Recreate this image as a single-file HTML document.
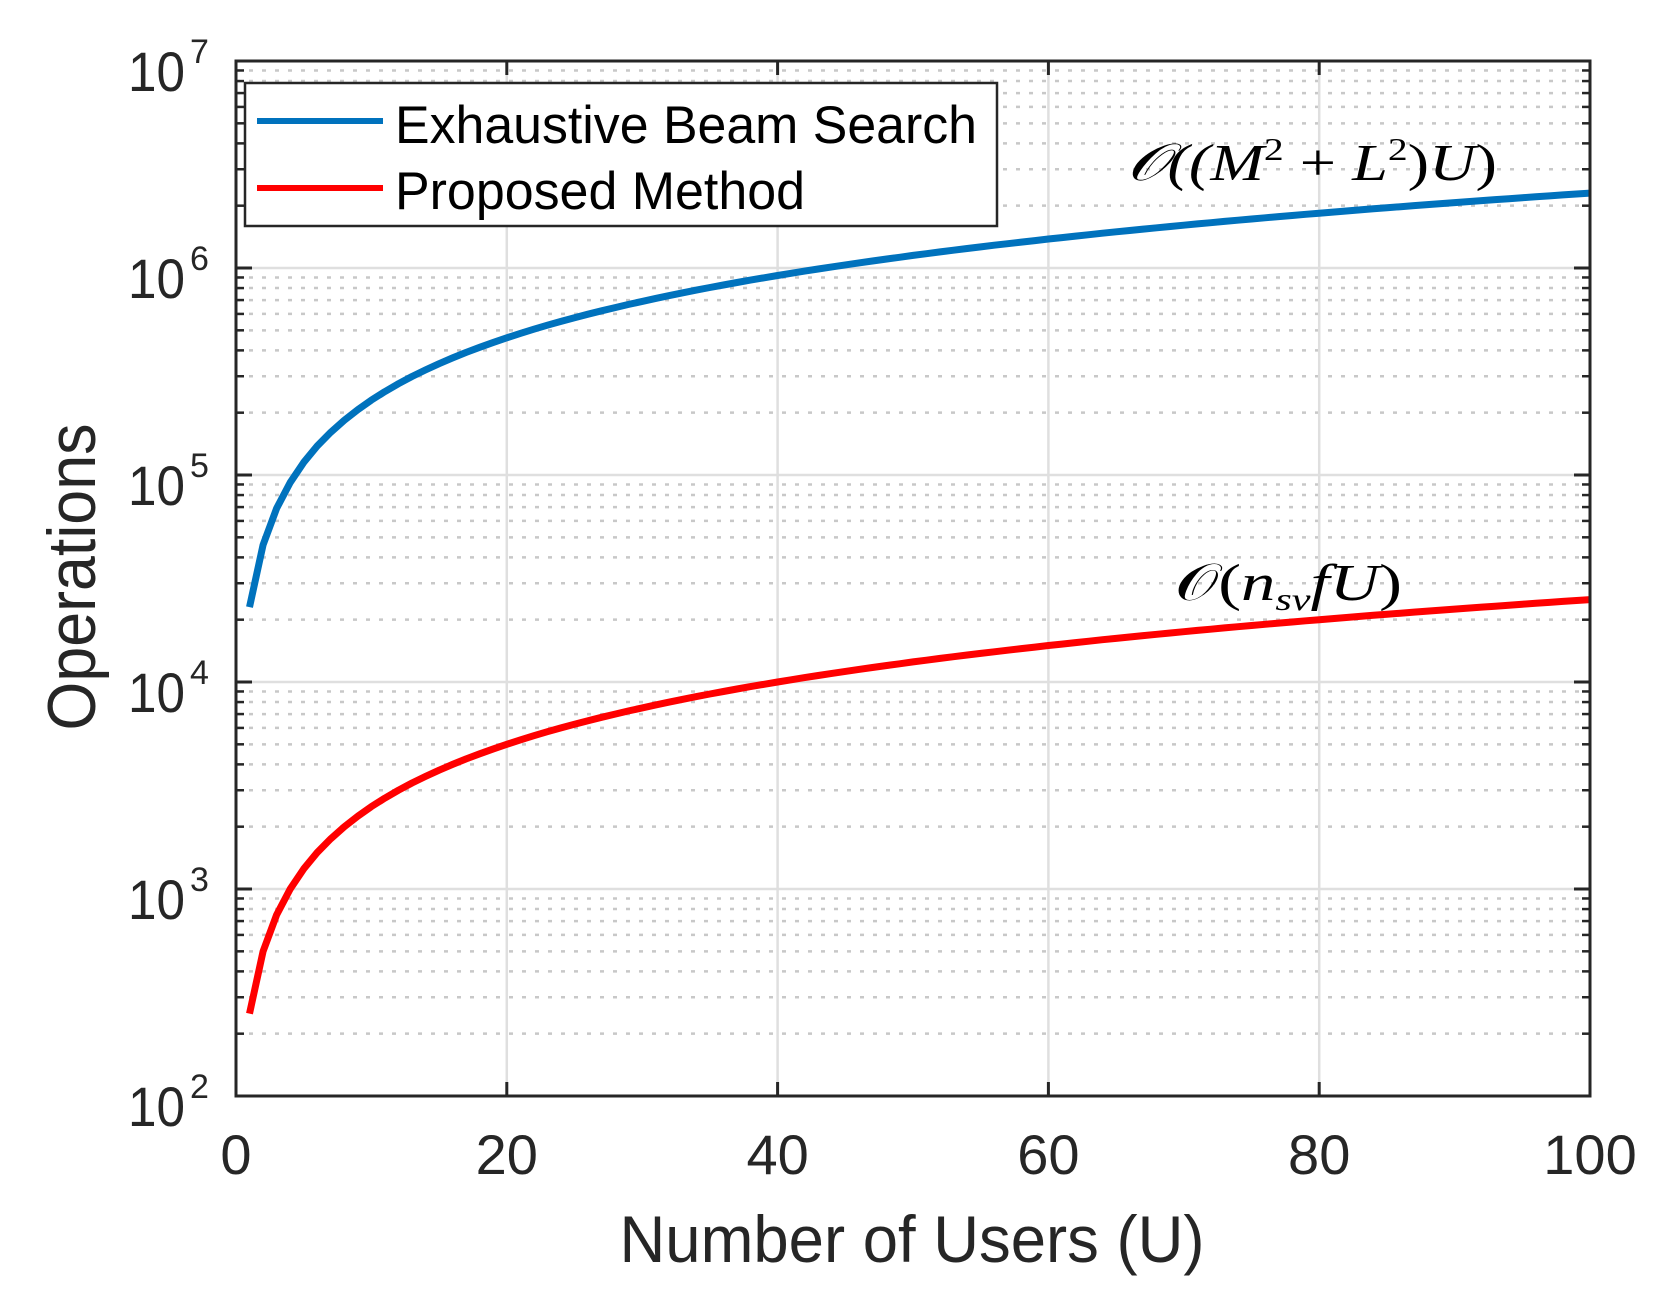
<!DOCTYPE html>
<html><head><meta charset="utf-8"><style>
html,body{margin:0;padding:0;background:#fff;}
svg{display:block;}
text{font-family:"Liberation Sans",Arial,sans-serif;fill:#262626;}
.m{font-family:"Liberation Serif","DejaVu Serif",serif;font-style:italic;fill:#000;}
</style></head><body>
<svg id="s" width="1660" height="1301" viewBox="0 0 1660 1301" xmlns="http://www.w3.org/2000/svg">
<rect width="1660" height="1301" fill="#fff"/>
<g id="grid"></g>
<g id="ticks"></g>
<polyline id="blue" fill="none" stroke="#0072BD" stroke-width="7" stroke-linejoin="round"/>
<polyline id="red" fill="none" stroke="#FF0000" stroke-width="7" stroke-linejoin="round"/>
<rect x="236" y="61" width="1354" height="1035" fill="none" stroke="#262626" stroke-width="3"/>
<rect x="245" y="83" width="752" height="143" fill="#fff" stroke="#262626" stroke-width="2.5"/>
<line x1="257" y1="121" x2="383" y2="121" stroke="#0072BD" stroke-width="6"/>
<line x1="257" y1="188" x2="383" y2="188" stroke="#FF0000" stroke-width="6"/>
<text x="395" y="143" font-size="53" textLength="582" lengthAdjust="spacingAndGlyphs" style="fill:#000">Exhaustive Beam Search</text>
<text x="395" y="209" font-size="53" textLength="410" lengthAdjust="spacingAndGlyphs" style="fill:#000">Proposed Method</text>
<text class="m" x="1127" y="180" font-size="52" textLength="370" lengthAdjust="spacingAndGlyphs">𝒪((M<tspan font-size="32" dy="-20" font-style="normal">2</tspan><tspan dy="20" font-style="normal"> + </tspan>L<tspan font-size="32" dy="-20" font-style="normal">2</tspan><tspan dy="20" font-style="normal">)</tspan>U<tspan font-style="normal">)</tspan></text>
<text class="m" x="1175" y="600" font-size="52" textLength="227" lengthAdjust="spacingAndGlyphs"><tspan font-style="normal">𝒪(</tspan>n<tspan font-size="32" dy="10">sv</tspan><tspan dy="-10">fU</tspan><tspan font-style="normal">)</tspan></text>
<g id="labels"></g>
<text x="912" y="1262" font-size="66" text-anchor="middle" textLength="585" lengthAdjust="spacingAndGlyphs">Number of Users (U)</text>
<text transform="translate(95,577) rotate(-90)" font-size="68" text-anchor="middle" textLength="307" lengthAdjust="spacingAndGlyphs">Operations</text>
</svg>
<script>
var NS="http://www.w3.org/2000/svg";
function el(p,t,a,txt){var e=document.createElementNS(NS,t);for(var k in a)e.setAttribute(k,a[k]);if(txt!=null)e.textContent=txt;document.getElementById(p).appendChild(e);return e;}
var L=236,R=1590,T=61,B=1096,D=207;
function X(u){return L+u*(R-L)/100;}
function Y(v){return T+(7-Math.log10(v))*D;}
for(var d=2;d<7;d++){for(var k=2;k<=9;k++){var y=Y(k*Math.pow(10,d));
el("grid","line",{x1:L,x2:R,y1:y,y2:y,stroke:"#c8c8c8","stroke-width":2.5,"stroke-dasharray":"4 9"});
el("ticks","line",{x1:L,x2:L+8,y1:y,y2:y,stroke:"#262626","stroke-width":2.5});
el("ticks","line",{x1:R-8,x2:R,y1:y,y2:y,stroke:"#262626","stroke-width":2.5});}}
for(var d=3;d<7;d++){var y=Y(Math.pow(10,d));
el("grid","line",{x1:L,x2:R,y1:y,y2:y,stroke:"#dfdfdf","stroke-width":2.5});
el("ticks","line",{x1:L,x2:L+16,y1:y,y2:y,stroke:"#262626","stroke-width":3});
el("ticks","line",{x1:R-16,x2:R,y1:y,y2:y,stroke:"#262626","stroke-width":3});}
for(var u=20;u<100;u+=20){var x=X(u);
el("grid","line",{x1:x,x2:x,y1:T,y2:B,stroke:"#dfdfdf","stroke-width":2.5});
el("ticks","line",{x1:x,x2:x,y1:B-14,y2:B,stroke:"#262626","stroke-width":3});
el("ticks","line",{x1:x,x2:x,y1:T,y2:T+14,stroke:"#262626","stroke-width":3});}
for(var u=0;u<=100;u+=20){el("labels","text",{x:X(u),y:1174,"font-size":56,"text-anchor":"middle"},String(u));}
for(var d=2;d<=7;d++){var y=Y(Math.pow(10,d));
el("labels","text",{x:128,y:y+30,"font-size":56,textLength:57,lengthAdjust:"spacingAndGlyphs"},"10");
el("labels","text",{x:190,y:y+2,"font-size":34},String(d));}
var b=[],r=[];
for(var u=1;u<=100;u++){b.push(X(u).toFixed(1)+","+Y(23000*u).toFixed(1));r.push(X(u).toFixed(1)+","+Y(250*u).toFixed(1));}
document.getElementById("blue").setAttribute("points",b.join(" "));
document.getElementById("red").setAttribute("points",r.join(" "));
</script>
</body></html>
